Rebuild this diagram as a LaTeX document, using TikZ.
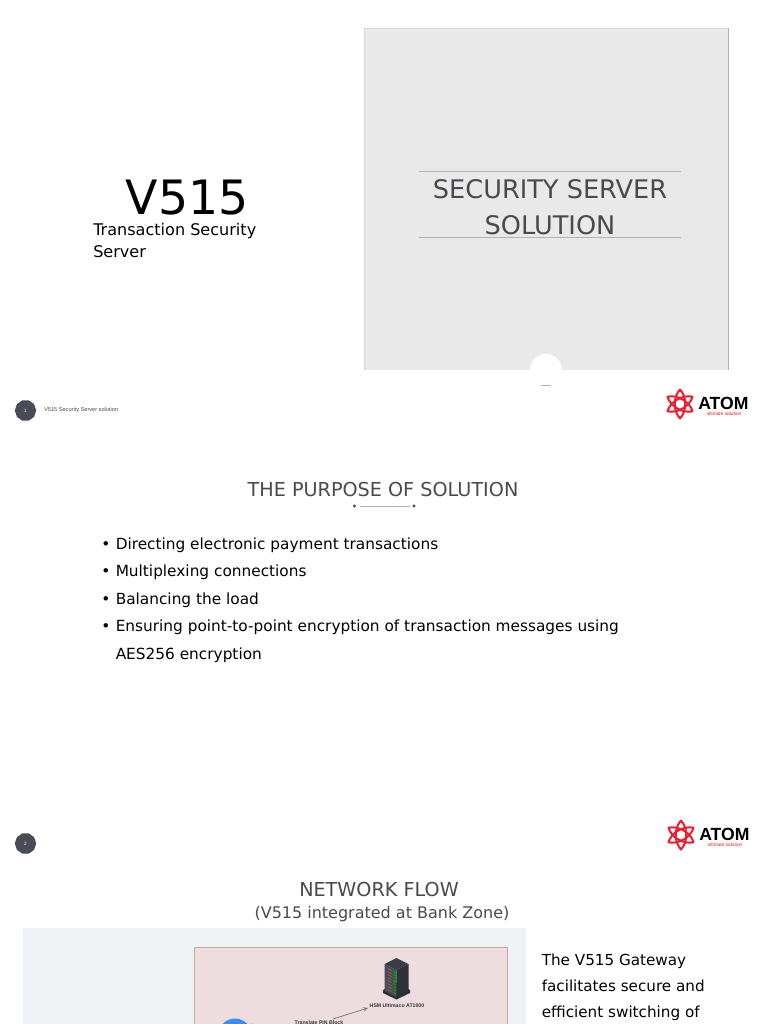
\documentclass[tikz,border=0pt]{standalone}
\usepackage{fontspec}
\usepackage{tikz}
\usetikzlibrary{shapes.geometric}
\setmainfont{DejaVu Sans}
\newfontfamily\smallfont{Liberation Sans}

\definecolor{panelgray}{RGB}{233,233,233}
\definecolor{rulegray}{RGB}{178,178,178}
\definecolor{titlegray}{RGB}{74,74,78}
\definecolor{badgegray}{RGB}{72,76,86}
\definecolor{atomred}{RGB}{237,28,46}
\definecolor{flowback}{RGB}{239,243,246}
\definecolor{zonepink}{RGB}{238,221,222}
\definecolor{zoneline}{RGB}{200,165,168}
\definecolor{nodeblue}{RGB}{60,140,245}

\tikzset{
    label/.style={inner sep=0pt, anchor=base west, text=black},
    title/.style={inner sep=0pt, anchor=base, text=titlegray, font=\fontsize{14.4}{18}\selectfont},
    bullet/.style={label, font=\fontsize{11.5}{14}\selectfont},
    badge/.style={regular polygon, regular polygon sides=10, minimum size=16, inner sep=0pt, fill=badgegray, text=white, font=\smallfont\fontsize{3.5}{4}\selectfont},
    petal/.style={draw=atomred, line width=1.5pt, line join=round},
}

\newcommand{\atomlogo}[2]{
    \foreach \a in {0,60,120} {
        \draw[petal, shift={(#1,#2)}, rotate=\a] (0,-14.5) .. controls (7,-7) and (7,7) .. (0,14.5) .. controls (-7,7) and (-7,-7) .. cycle;
    }
    \node[inner sep=0pt, anchor=base west, font=\smallfont\bfseries\fontsize{13.2}{15}\selectfont] (atom#2) at (#1+17.5,#2+5) {ATOM};
    \node[inner sep=0pt, anchor=base, text=atomred, font=\smallfont\fontsize{3.6}{4}\selectfont] (tag#2) at (#1+44,#2+11) {ultimate solution};
}

\begin{document}
\begin{tikzpicture}[x=0.75pt, y=-0.75pt, line width=0.04cm]
    \clip (0,0) rectangle (768,1024);
    \fill[white] (0,0) rectangle (768,1024);

    % first slide
    \fill[panelgray] (364,28) rectangle (728,370);
    \draw[rulegray, line width=0.5pt] (728,28) -- (728,370);
    \draw[panelgray!92!black, line width=0.4pt] (364,370) -- (364,28) -- (728,28);
    \draw[rulegray, line width=0.6pt] (419,171) -- (681,171);
    \draw[rulegray, line width=0.6pt] (419,237) -- (681,237);
    \node[title, font=\fontsize{19.2}{22}\selectfont] (sec) at (550,198) {SECURITY SERVER};
    \node[title, font=\fontsize{19.2}{22}\selectfont] (sol) at (550,234) {SOLUTION};
    \node[label, font=\fontsize{35.5}{40}\selectfont] (V) at (125,214) {V515};
    \node[label, font=\fontsize{12.05}{15}\selectfont] (T1) at (92.5,235) {Transaction Security};
    \node[label, font=\fontsize{12.05}{15}\selectfont] (T2) at (92.5,257) {Server};
    \fill[white] (546,370) circle (16);
    \draw[rulegray, line width=0.5pt] (541,385.5) -- (551,385.5);

    \node[badge] (one) at (25.5,410.5) {1};
    \node[inner sep=0pt, anchor=west, text=titlegray, font=\smallfont\fontsize{4.2}{5}\selectfont] (foot) at (43.5,410) {V515 Security Server solution};
    \atomlogo{680}{404}

    % second slide
    \node[title] (purpose) at (383,496) {THE PURPOSE OF SOLUTION};
    \node[circle, fill=titlegray, inner sep=0pt, minimum size=2.6pt] (dotL) at (354.5,506) {};
    \node[circle, fill=titlegray, inner sep=0pt, minimum size=2.6pt] (dotR) at (414,506) {};
    \draw[rulegray, line width=0.5pt, shorten <=2pt, shorten >=1.5pt] (dotL) -- (dotR);

    \node[bullet] (d1) at (100.5,549.5) {•};
    \node[bullet] (d2) at (100.5,576.5) {•};
    \node[bullet] (d3) at (100.5,604.5) {•};
    \node[bullet] (d4) at (100.5,631.5) {•};
    \node[bullet] (b1) at (115,549.5) {Directing electronic payment transactions};
    \node[bullet] (b2) at (115,576.5) {Multiplexing connections};
    \node[bullet] (b3) at (115,604.5) {Balancing the load};
    \node[bullet] (b4) at (115,631.5) {Ensuring point-to-point encryption of transaction messages using};
    \node[bullet] (b5) at (115,659) {AES256 encryption};

    \node[badge] (two) at (25.5,843.5) {2};
    \atomlogo{681}{835}

    % third slide
    \node[title] (flow) at (379,896) {NETWORK FLOW};
    \node[title, font=\fontsize{12}{15}\selectfont] (bank) at (382,918.5) {(V515 integrated at Bank Zone)};
    \fill[flowback] (23,928) rectangle (526,1024);
    \filldraw[fill=zonepink, draw=zoneline, line width=0.7pt] (194,947) rectangle (507,1030);

    % server
    \fill[badgegray!60!black] (383,990) -- (396.5,983) -- (410,990) -- (410,993) -- (396.5,999.5) -- (383,993) -- cycle;
    \fill[badgegray!80!black] (384.5,964) -- (396.5,958) -- (408.5,964) -- (396.5,970) -- cycle;
    \fill[badgegray] (384.5,964) -- (396.5,970) -- (396.5,997) -- (384.5,991) -- cycle;
    \fill[badgegray!65!black] (396.5,970) -- (408.5,964) -- (408.5,991) -- (396.5,997) -- cycle;
    \foreach \i in {0,...,7} {
        \draw[green!65!black, line width=0.9pt] (393.5,{971.5+\i*3}) -- (396,{972.7+\i*3});
        \draw[gray!70!red, line width=0.5pt] (387.5,{968.5+\i*3}) -- (391.5,{970.5+\i*3});
    }

    \node[inner sep=0pt, text=titlegray!70!black, font=\smallfont\bfseries\fontsize{3.9}{5}\selectfont] (hsm) at (397,1006) {HSM Ultimaco AT1000};
    \node[inner sep=0pt, text=titlegray!70!black, font=\smallfont\bfseries\fontsize{3.9}{5}\selectfont] (pin) at (319,1023) {Translate PIN Block};
    \coordinate (pinend) at (333,1019);
    \coordinate (hsmend) at (368,1008);
    \draw[-stealth, gray, line width=0.6pt] (pinend) -- (hsmend);

    \fill[nodeblue] (235,1035) circle (16.5);
    \fill[nodeblue!70!white] (252,1027) circle (3.5);

    \node[label, font=\fontsize{11.4}{14}\selectfont] (g1) at (541,965) {The V515 Gateway};
    \node[label, font=\fontsize{11.4}{14}\selectfont] (g2) at (541,991) {facilitates secure and};
    \node[label, font=\fontsize{11.4}{14}\selectfont] (g3) at (541,1017) {efficient switching of};
\end{tikzpicture}
\end{document}
